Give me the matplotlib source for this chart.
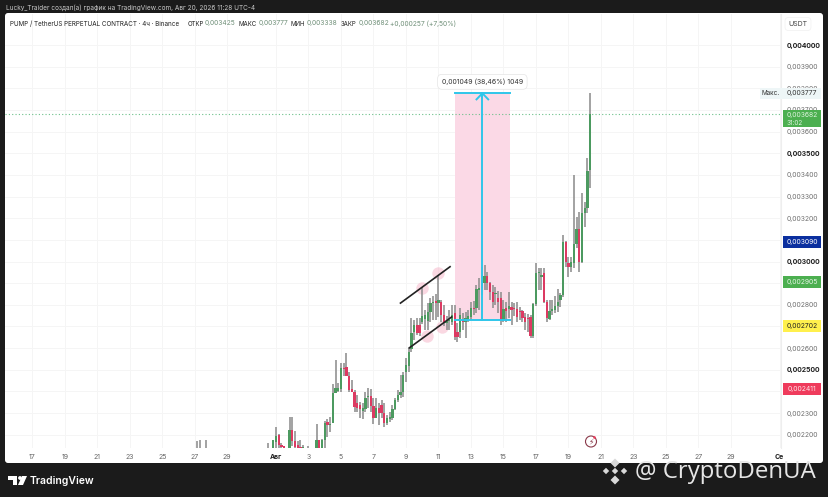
import matplotlib
matplotlib.use('Agg')
import matplotlib.pyplot as plt
from matplotlib.patches import Rectangle, FancyBboxPatch, Circle, Polygon

plt.rcParams['font.family'] = ['Inter', 'DejaVu Sans']

# 4h candles, slot number counted from the 1 Aug tick, prices in 1e-6 USDT
slots = [-29, -28, -26, -3, -1, 0, 1, 2, 3, 5, 6, 7, 8, 9, 10, 12, 15, 16, 17, 18, 19, 20,
         21, 22, 23, 24, 25, 26, 27, 28, 29, 30, 31, 32, 33, 34, 35, 36, 37, 38, 39, 40,
         41, 42, 43, 44, 45, 46, 47, 48, 49, 50, 51, 52, 53, 54, 55, 56, 57, 58, 59, 60,
         61, 62, 63, 64, 65, 66, 67, 68, 69, 70, 71, 72, 73, 74, 75, 76, 77, 78, 79, 80,
         81, 82, 83, 84, 85, 86, 87, 88, 89, 90, 91, 92, 93, 94, 95, 96, 97, 98, 99, 100,
         101, 102, 103, 104, 105, 106, 107, 108, 109, 110, 111, 112, 113, 114, 115, 116]
opens = [2090, 2100, 2110, 2110, 2139, 2166, 2199, 2152, 2148, 2120, 2222, 2171, 2152, 2143, 2139, 2135, 2125, 2176, 2130, 2176, 2259, 2245,
         2254, 2393, 2400, 2411, 2508, 2513, 2471, 2411, 2397, 2346, 2337, 2310, 2319, 2374, 2379, 2333, 2277, 2323, 2337, 2300,
         2254, 2273, 2277, 2319, 2360, 2383, 2397, 2490, 2517, 2596, 2675, 2707, 2707, 2721, 2735, 2725, 2767, 2808, 2818, 2808,
         2813, 2753, 2716, 2725, 2721, 2762, 2675, 2675, 2730, 2721, 2725, 2744, 2785, 2785, 2868, 2878, 2901, 2933, 2901, 2859,
         2850, 2832, 2832, 2730, 2785, 2781, 2790, 2785, 2781, 2772, 2772, 2744, 2739, 2744, 2656, 2804, 2947, 2929, 2947, 2813,
         2735, 2772, 2776, 2795, 2822, 2845, 3090, 2995, 2975, 2993, 3081, 3150, 2998, 3224, 3247, 3425]
highs = [2172, 2176, 2176, 2162, 2176, 2236, 2203, 2162, 2148, 2282, 2282, 2217, 2171, 2176, 2152, 2148, 2249, 2176, 2180, 2263, 2273, 2282,
         2434, 2545, 2439, 2531, 2531, 2577, 2490, 2453, 2406, 2383, 2351, 2346, 2397, 2416, 2411, 2370, 2370, 2346, 2360, 2346,
         2291, 2305, 2337, 2370, 2406, 2476, 2490, 2554, 2601, 2739, 2730, 2739, 2739, 2882, 2776, 2808, 2832, 2841, 2850, 2938,
         2822, 2799, 2749, 2776, 2799, 2799, 2716, 2785, 2762, 2767, 2776, 2813, 2818, 2892, 2924, 2975, 2984, 2952, 2905, 2892,
         2882, 2864, 2859, 2822, 2813, 2859, 2813, 2808, 2813, 2790, 2776, 2762, 2758, 2753, 2808, 2993, 2970, 2970, 2970, 2822,
         2822, 2822, 2841, 2873, 2855, 3123, 3095, 3021, 3021, 3400, 3206, 3229, 3316, 3275, 3478, 3777]
lows = [2080, 2085, 2090, 2100, 2130, 2135, 2130, 2130, 2130, 2110, 2148, 2130, 2125, 2130, 2130, 2130, 2120, 2120, 2125, 2130, 2189, 2212,
        2254, 2393, 2397, 2397, 2471, 2471, 2397, 2397, 2305, 2305, 2277, 2273, 2305, 2323, 2305, 2249, 2277, 2245, 2277, 2236,
        2245, 2259, 2268, 2314, 2351, 2370, 2374, 2443, 2490, 2582, 2637, 2661, 2656, 2712, 2684, 2684, 2721, 2730, 2730, 2744,
        2721, 2702, 2684, 2684, 2707, 2637, 2628, 2647, 2684, 2647, 2721, 2730, 2753, 2762, 2776, 2845, 2868, 2868, 2822, 2785,
        2799, 2762, 2707, 2721, 2721, 2739, 2707, 2749, 2721, 2730, 2721, 2684, 2675, 2647, 2647, 2795, 2868, 2868, 2808, 2721,
        2730, 2753, 2762, 2767, 2790, 2835, 2975, 2929, 2952, 2970, 3063, 2952, 2993, 3160, 3224, 3338]
closes = [2100, 2110, 2100, 2120, 2176, 2194, 2152, 2143, 2139, 2222, 2171, 2143, 2139, 2139, 2143, 2140, 2176, 2130, 2176, 2254, 2245, 2249,
          2393, 2416, 2416, 2508, 2504, 2471, 2406, 2397, 2328, 2323, 2319, 2323, 2370, 2379, 2333, 2277, 2323, 2300, 2300, 2254,
          2277, 2282, 2319, 2360, 2383, 2397, 2476, 2522, 2582, 2670, 2707, 2670, 2670, 2749, 2753, 2767, 2808, 2813, 2808, 2822,
          2753, 2716, 2725, 2730, 2753, 2651, 2651, 2753, 2721, 2739, 2749, 2785, 2781, 2873, 2878, 2915, 2933, 2901, 2859, 2813,
          2855, 2813, 2730, 2781, 2772, 2795, 2776, 2781, 2744, 2767, 2739, 2721, 2735, 2656, 2804, 2947, 2952, 2938, 2813, 2739,
          2772, 2781, 2795, 2813, 2845, 3090, 2998, 2975, 2998, 3081, 3150, 2998, 3224, 3247, 3418, 3682]

price_ticks = [2200, 2300, 2400, 2500, 2600, 2700, 2800, 2900, 3000, 3100, 3200, 3300, 3400, 3500,
               3600, 3700, 3800, 3900, 4000]
hidden_ticks = [2400, 2700, 2900, 3100]  # these sit under the order tags
date_ticks = [-15, -13, -11, -9, -7, -5, -3, 0, 2, 4, 6, 8, 10, 12, 14, 16, 18, 20, 22, 24, 26, 28, 31]
date_labels = ['17', '19', '21', '23', '25', '27', '29', 'Авг', '3', '5', '7', '9', '11', '13', '15', '17',
               '19', '21', '23', '25', '27', '29', 'Се']

# drawing tools, (day, price in 1e-6)
range_days = [11.0, 14.37]
range_prices = [2728, 3777]
arrow_day = 12.7
upper_line = ([7.66, 10.71], [2808, 2976])
lower_line = ([8.2, 10.81], [2601, 2744])
circle_days = [8.98, 9.97, 9.32, 10.2]
circle_prices = [2878, 2947, 2656, 2698]

# order lines on the price scale
tags = [(3090, '#0b2f9f', 'white'), (2905, '#4caf50', '#e6f5e6'), (2702, '#fff04d', '#222222'), (2411, '#ef3b5c', '#ffe6ea')]

W, H = 829, 497
fig = plt.figure(figsize=(W / 100, H / 100), dpi=100, facecolor='#1b1b1b')

# page furniture in pixel coordinates
bg = fig.add_axes([0, 0, 1, 1], zorder=0)
bg.set_xlim(0, W)
bg.set_ylim(H, 0)
bg.axis('off')
bg.add_patch(FancyBboxPatch((5, 13), 818, 450, boxstyle='round,pad=0,rounding_size=3', fc='white', ec='none'))

L, R, T, B = 5, 781, 14, 448
ax = fig.add_axes([L / W, 1 - B / H, (R - L) / W, (B - T) / H], zorder=1)
ax.patch.set_alpha(0)
x_per_px = 1 / 16.25
ax.set_xlim((L - 276) * x_per_px, (R - 276) * x_per_px)
ax.set_ylim(4208 - 4.619 * B, 4208 - 4.619 * T)
for s in ax.spines.values():
    s.set_visible(False)
ax.spines['right'].set_visible(True)
ax.spines['right'].set_color('#eeeeee')
ax.spines['right'].set_linewidth(0.8)

ax.grid(True, color='#f5f5f5', lw=0.7)
ax.set_axisbelow(True)
ax.yaxis.tick_right()
ax.set_yticks(price_ticks)
ax.set_yticklabels(['' if p in hidden_ticks else '0,00%d' % p for p in price_ticks], fontsize=4.9)
for lab, p in zip(ax.get_yticklabels(), price_ticks):
    if p % 500 == 0:
        lab.set_fontweight('bold')
        lab.set_color('#222222')
    else:
        lab.set_color('#6f6f6f')
ax.set_xticks(date_ticks)
ax.set_xticklabels(date_labels, fontsize=5.0, color='#666666')
ax.get_xticklabels()[date_labels.index('Авг')].set_fontweight('bold')
ax.get_xticklabels()[date_labels.index('Авг')].set_color('#222222')
ax.get_xticklabels()[-1].set_fontweight('bold')
ax.get_xticklabels()[-1].set_color('#222222')
ax.tick_params(axis='both', length=0)
ax.tick_params(axis='y', pad=4)
ax.tick_params(axis='x', pad=4.5)

# range measure
ax.fill_between(range_days, range_prices[0], range_prices[1], color='#fbd9e6', lw=0, zorder=1)
ax.plot(range_days, [range_prices[0]] * 2, color='#2fc6ea', lw=1.4, zorder=4)
ax.plot(range_days, [range_prices[1]] * 2, color='#2fc6ea', lw=1.4, zorder=4)
ax.plot([arrow_day, arrow_day], range_prices, color='#2fc6ea', lw=1.4, zorder=4)
ax.plot([arrow_day - 0.36, arrow_day, arrow_day + 0.36],
        [range_prices[1] - 28, range_prices[1], range_prices[1] - 28], color='#2fc6ea', lw=1.4, zorder=4)
ax.text(arrow_day, 3830, '0,001049 (38,46%) 1049', ha='center', va='center', fontsize=5.0, color='#333333', zorder=6,
        bbox=dict(boxstyle='round,pad=0.6', fc='white', ec='#e4e4e4', lw=0.5))

# candles
days = [s / 6 for s in slots]
body_bottom = [min(o, c) for o, c in zip(opens, closes)]
body_height = [max(abs(c - o), 3) for o, c in zip(opens, closes)]
colors = ['#4c9a60' if c >= o else '#dc3a62' for o, c in zip(opens, closes)]
ax.scatter(circle_days, circle_prices, s=80, color='#f4a9c0', alpha=0.45, lw=0, zorder=2)
ax.vlines(days, lows, highs, color='#8e8e8e', lw=1.15, zorder=3)
ax.bar(days, body_height, bottom=body_bottom, width=0.14, color=colors, lw=0, zorder=3.5)

ax.plot(*upper_line, color='#222222', lw=1.2, zorder=5)
ax.plot(*lower_line, color='#222222', lw=1.2, zorder=5)

# last price line
ax.axhline(closes[-1], color='#6cc08a', lw=0.8, ls=(0, (1, 2)), zorder=2)

# price tags on the axis
trans = ax.get_yaxis_transform()
tx0 = (783 - L) / (R - L)
tw = 38 / (R - L)
for price, fc, fg in tags:
    ax.add_patch(Rectangle((tx0, price - 26), tw, 52, transform=trans, fc=fc, ec='none', clip_on=False, zorder=7))
    ax.text(tx0 + tw / 2, price, '0,00%d' % price, transform=trans, ha='center', va='center', fontsize=4.9,
            color=fg, clip_on=False, zorder=8)
# high marker
mx0 = (760 - L) / (R - L)
ax.add_patch(Rectangle((mx0, 3777 - 26), (821 - 760) / (R - L), 52, transform=trans, fc='#eef6f7', ec='none',
                       clip_on=False, zorder=7))
ax.text((762 - L) / (R - L), 3777, 'Макс.', transform=trans, va='center', fontsize=4.6, color='#333333', zorder=8)
ax.text(tx0 + tw / 2, 3777, '0,003777', transform=trans, ha='center', va='center', fontsize=4.9, color='#333333',
        clip_on=False, zorder=8)
# last price tag
ax.add_patch(Rectangle((tx0, 3621), tw, 79, transform=trans, fc='#4caf50', ec='none', clip_on=False, zorder=7))
ax.text(tx0 + tw / 2, 3677, '0,003682', transform=trans, ha='center', va='center', fontsize=4.9, color='#dff3df',
        clip_on=False, zorder=8)
ax.text(tx0 + 0.004, 3641, '31:02', transform=trans, ha='left', va='center', fontsize=4.6, color='#dff3df',
        clip_on=False, zorder=8)

# overlay for header and footer text
top = fig.add_axes([0, 0, 1, 1], zorder=2)
top.set_xlim(0, W)
top.set_ylim(H, 0)
top.axis('off')
top.patch.set_alpha(0)

top.text(6, 8, 'Lucky_Traider создал(а) график на TradingView.com, Авг 20, 2026 11:28 UTC-4', fontsize=4.65,
         color='#c9c9c9', va='center')
top.text(10, 23.5, 'PUMP / TetherUS PERPETUAL CONTRACT · 4ч · Binance', fontsize=4.55, color='#222222', va='center')
for x, s in [(188, 'ОТКР'), (239, 'МАКС'), (291, 'МИН'), (341, 'ЗАКР')]:
    top.text(x, 23.5, s, fontsize=4.4, color='#222222', va='center')
for x, s in [(205, '0,003425'), (259, '0,003777'), (307, '0,003338'), (359, '0,003682'), (390, '+0,000257 (+7,50%)')]:
    top.text(x, 23.5, s, fontsize=4.8, color='#6f8f78', va='center')

top.text(798, 24, 'USDT', fontsize=5, color='#444444', ha='center', va='center',
         bbox=dict(boxstyle='round,pad=0.5', fc='white', ec='#f0f0f0', lw=0.5))

# alert icon
top.add_patch(Circle((591, 441.5), 5.5, fc='white', ec='#8a3a4a', lw=0.8))
top.text(591, 441.5, '⚡', fontsize=5.5, color='#8a3a4a', ha='center', va='center', family='DejaVu Sans')
top.add_patch(Circle((594.5, 437.5), 1.3, fc='#ef3b5c', ec='none'))

# TradingView mark and name
top.add_patch(Polygon([(8, 476), (17, 476), (17, 485), (13, 485), (13, 480), (8, 480)], fc='white', ec='none'))
top.add_patch(Circle((20, 478), 1.9, fc='white', ec='none'))
top.add_patch(Polygon([(22, 476), (27, 476), (23, 485), (18, 485)], fc='white', ec='none'))
top.text(30, 480.5, 'TradingView', fontsize=7.5, fontweight='semibold', color='white', va='center')

# watermark
for cx, cy, r in [(615, 463, 4.5), (606, 471, 3.2), (624, 471, 3.2), (615, 471, 3.2), (615, 480, 4.5)]:
    top.add_patch(Polygon([(cx - r, cy), (cx, cy - r), (cx + r, cy), (cx, cy + r)], fc='#d9d9d9', ec='none'))
top.text(635, 472, '@ CryptoDenUA', fontsize=17.3, color='#e6e6e6', va='center', family=['Open Sans', 'DejaVu Sans'])

fig.savefig('out.png', dpi=100, facecolor=fig.get_facecolor())
